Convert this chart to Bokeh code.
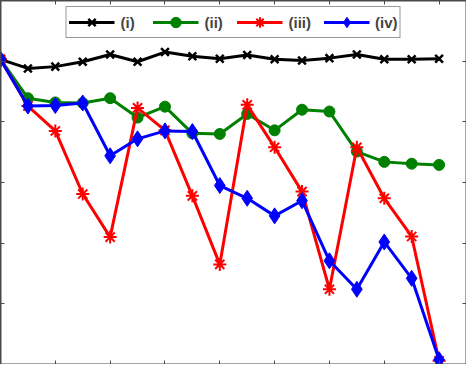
from bokeh.plotting import figure
from bokeh.models import LinearAxis, Range1d, FixedTicker, Legend, CustomJSTickFormatter
from bokeh.embed import file_html
from bokeh.resources import INLINE

x = list(range(17))
series_labels = ["(i)", "(ii)", "(iii)", "(iv)"]
black = [5.03, 4.88, 4.91, 4.99, 5.11, 4.99, 5.15, 5.08, 5.04, 5.10, 5.03, 5.01, 5.05, 5.11, 5.03, 5.03, 5.04]
green = [5.03, 4.39, 4.32, 4.31, 4.39, 4.07, 4.25, 3.81, 3.80, 4.13, 3.86, 4.20, 4.17, 3.51, 3.34, 3.31, 3.29]
red = [5.03, 4.26, 3.85, 2.81, 2.10, 4.23, 3.86, 2.78, 1.65, 4.28, 3.58, 2.85, 1.24, 3.58, 2.74, 2.11, 0.06]
blue = [5.03, 4.26, 4.27, 4.31, 3.44, 3.72, 3.85, 3.84, 2.95, 2.74, 2.45, 2.70, 1.71, 1.24, 2.02, 1.42, 0.08]
x_ticks = [0, 2, 4, 6, 8, 10, 12, 14, 16]
y_ticks = [0, 1, 2, 3, 4, 5, 6]

p = figure(width=466, height=364, output_backend="svg", toolbar_location=None,
           x_range=Range1d(0, 17), y_range=Range1d(0, 6), min_border=0,
           x_axis_location=None, y_axis_location=None)
p.outline_line_color = None
p.xgrid.visible = False
p.ygrid.visible = False

axis_color = "#4a4a4a"
for side, ticks in (("below", x_ticks), ("above", x_ticks), ("left", y_ticks), ("right", y_ticks)):
    ax = LinearAxis(ticker=FixedTicker(ticks=ticks),
                    formatter=CustomJSTickFormatter(code="return ''"))
    ax.major_label_text_font_size = "1px"
    ax.major_label_standoff = 0
    ax.major_tick_out = 0
    ax.major_tick_in = 4
    ax.minor_tick_in = 0
    ax.minor_tick_out = 0
    ax.axis_line_color = axis_color
    ax.axis_line_width = 2
    ax.major_tick_line_color = axis_color
    ax.major_tick_line_width = 1
    p.add_layout(ax, side)

specs = [
    (black, "black", "x", 11, 2.5),
    (green, "#008000", "circle", 11, 1),
    (red, "#ff0000", "asterisk", 13, 2),
    (blue, "#0000ff", "diamond", 16, 1),
]
items = []
for (vals, col, mk, sz, mlw), lab in zip(specs, series_labels):
    l = p.line(x, vals, line_color=col, line_width=3)
    s = p.scatter(x, vals, marker=mk, size=sz, line_color=col, fill_color=col, line_width=mlw)
    items.append((lab, [l, s]))

legend = Legend(items=items, orientation="horizontal", location="top_center")
legend.margin = 6
legend.padding = 2
legend.spacing = 12
legend.glyph_width = 46
legend.glyph_height = 26
legend.label_standoff = 6
legend.label_text_font = "Liberation Sans"
legend.label_text_font_style = "bold"
legend.label_text_font_size = "15px"
legend.border_line_color = "#333333"
legend.border_line_width = 1
legend.background_fill_color = "white"
legend.background_fill_alpha = 1
p.add_layout(legend, "center")

open("out.html", "w").write(file_html(p, INLINE))
